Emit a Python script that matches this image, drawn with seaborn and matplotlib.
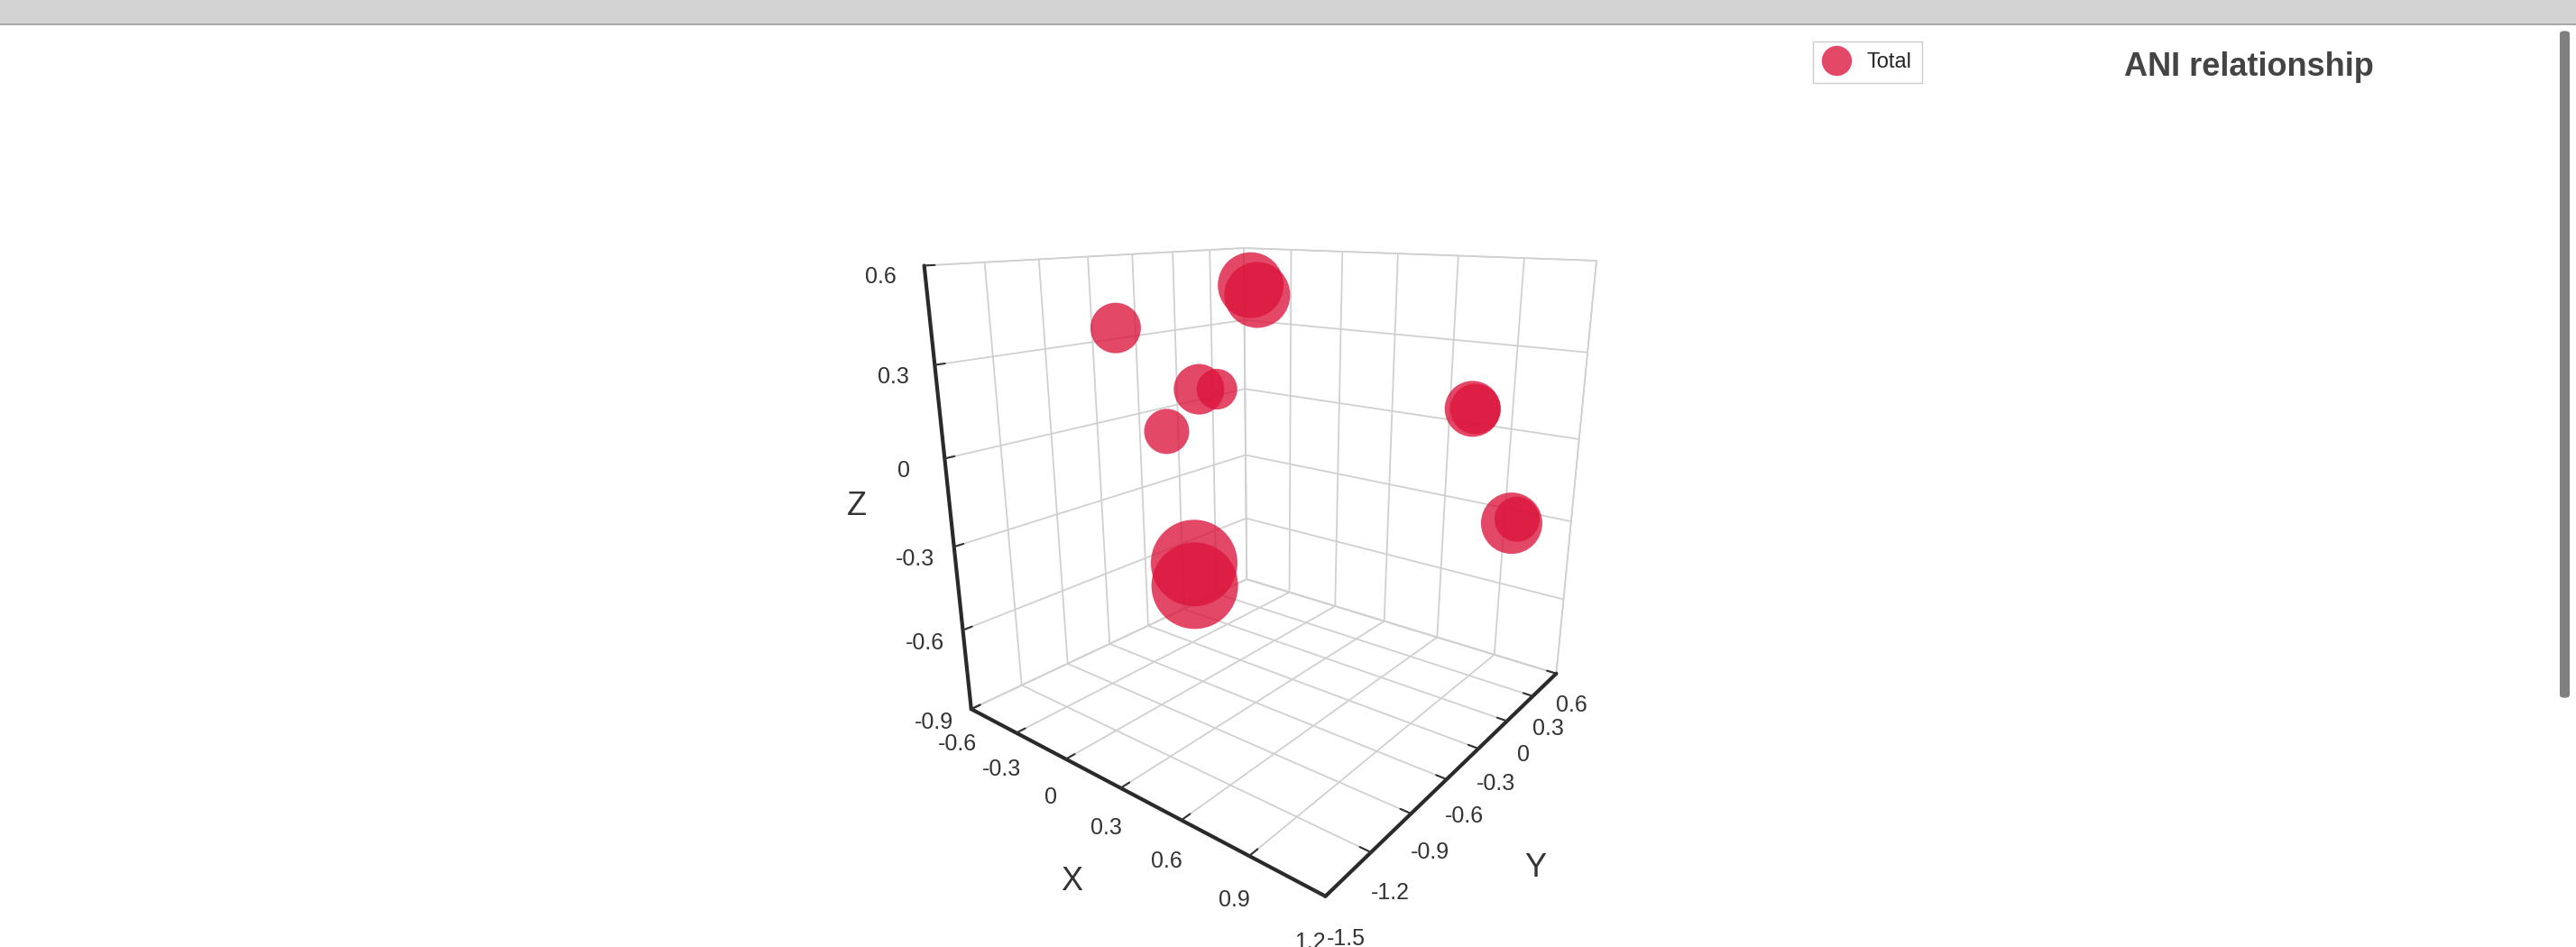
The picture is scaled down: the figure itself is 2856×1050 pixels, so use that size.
import numpy as np
import pandas as pd
import matplotlib
matplotlib.use('Agg')
import matplotlib.pyplot as plt
import seaborn as sns
from matplotlib.patches import Rectangle, FancyBboxPatch
from matplotlib.lines import Line2D

# ---- data ----
x_vals = [-0.26, -0.18, -0.45, -0.10, 0.00, -0.03, 0.16, 0.16, 0.93, 0.94, 1.11, 1.12]
y_vals = [0.18, 0.12, -0.60, -0.45, -0.45, -0.765, -0.84, -0.84, 0.075, 0.08, 0.12, 0.15]
z_vals = [0.48, 0.45, 0.36, 0.16, 0.17, 0.06, -0.35, -0.43, 0.14, 0.14, -0.23, -0.22]
marker_px = [73, 73, 56, 56, 45, 50, 96, 96, 62, 56, 68, 50]
series_name = "Total"
title_text = "ANI relationship"

x_ticks = [-0.6, -0.3, 0, 0.3, 0.6, 0.9, 1.2]
x_tick_labels = ["-0.6", "-0.3", "0", "0.3", "0.6", "0.9", "1.2"]
y_ticks = [-1.5, -1.2, -0.9, -0.6, -0.3, 0, 0.3, 0.6]
y_tick_labels = ["-1.5", "-1.2", "-0.9", "-0.6", "-0.3", "0", "0.3", "0.6"]
z_ticks = [-0.9, -0.6, -0.3, 0, 0.3, 0.6]
z_tick_labels = ["-0.9", "-0.6", "-0.3", "0", "0.3", "0.6"]

df = pd.DataFrame({"X": x_vals, "Y": y_vals, "Z": z_vals, "size": marker_px})

sns.set_theme(style="white")
plt.rcParams['font.family'] = ['Liberation Sans', 'DejaVu Sans']

W, H = 2856, 1050
fig = plt.figure(figsize=(W / 100, H / 100), dpi=100)
fig.patch.set_facecolor('white')

# browser-like top band and scrollbar
fig.patches.append(Rectangle((0, 1 - 27 / H), 1, 27 / H, transform=fig.transFigure,
                             facecolor='#d3d3d3', edgecolor='none', zorder=0))
fig.add_artist(Line2D([0, 1], [1 - 27 / H, 1 - 27 / H], transform=fig.transFigure,
                      color='#a8a8a8', lw=1.5))
fig.patches.append(FancyBboxPatch((2838 / W, 1 - 774 / H), 11 / W, (774 - 34) / H,
                                  boxstyle="round,pad=0,rounding_size=0.003",
                                  transform=fig.transFigure, facecolor='#808080',
                                  edgecolor='none'))

crimson = sns.color_palette(['#DC143C'])[0]

ax = fig.add_axes([0.315, -0.008, 0.35, 0.952], projection='3d')
ax.set_proj_type('persp', focal_length=0.193)
ax.view_init(elev=17, azim=-52)
ax.set_box_aspect((1, 1, 1), zoom=0.83)

ax.scatter(df["X"], df["Y"], df["Z"], s=(df["size"] * 0.72) ** 2, color=crimson,
           alpha=0.78, edgecolors='none', depthshade=False)

try:
    ax.set_xlim(-0.6, 1.2, view_margin=0)
    ax.set_ylim(-1.5, 0.6, view_margin=0)
    ax.set_zlim(-0.9, 0.6, view_margin=0)
except TypeError:
    ax.set_xlim(-0.6, 1.2)
    ax.set_ylim(-1.5, 0.6)
    ax.set_zlim(-0.9, 0.6)

ax.set_xticks(x_ticks)
ax.set_xticklabels(x_tick_labels)
ax.set_yticks(y_ticks)
ax.set_yticklabels(y_tick_labels)
ax.set_zticks(z_ticks)
ax.set_zticklabels(z_tick_labels)

for axis in (ax.xaxis, ax.yaxis, ax.zaxis):
    axis.set_pane_color((1, 1, 1, 1))
    axis.pane.set_edgecolor('#cccccc')
    axis._axinfo['grid']['color'] = '#d0d0d0'
    axis._axinfo['grid']['linewidth'] = 1.3
    axis._axinfo['tick']['inward_factor'] = 0.0
    axis._axinfo['tick']['outward_factor'] = 0.3
    axis._axinfo['tick']['linewidth'] = {True: 1.5, False: 1.0}
    axis._axinfo['axisline']['color'] = '#2a2a2a'
    axis._axinfo['axisline']['linewidth'] = 3
    axis.line.set_color('#2a2a2a')
    axis.line.set_linewidth(3)
ax.zaxis.set_ticks_position('lower')
ax.zaxis.set_label_position('lower')
ax.grid(True)
ax.tick_params(axis='x', labelsize=18, labelcolor='#333333', colors='#333333', pad=8)
ax.tick_params(axis='y', labelsize=18, labelcolor='#333333', colors='#333333', pad=8)
ax.tick_params(axis='z', labelsize=18, labelcolor='#333333', colors='#333333', pad=14)

ax.set_xlabel("X", fontsize=26, color='#333333', labelpad=30)
ax.set_ylabel("Y", fontsize=26, color='#333333', labelpad=44)
ax.set_zlabel("Z", fontsize=26, color='#333333', labelpad=30)

fig.text(2493 / W, 1 - 75 / H, title_text, ha='center', va='center', fontsize=26,
         fontweight='bold', color='#444444')

handle = Line2D([], [], marker='o', linestyle='', color=crimson, alpha=0.78,
                markersize=24, markeredgewidth=0)
fig.legend(handles=[handle], labels=[series_name], loc='upper left',
           bbox_to_anchor=(2010 / W, 1 - 46 / H), frameon=True, fancybox=False,
           edgecolor='#cccccc', fontsize=17, handletextpad=0.8, borderpad=0.5,
           handlelength=1.2, framealpha=1, borderaxespad=0)

fig.savefig("out.png", dpi=100, facecolor='white')
